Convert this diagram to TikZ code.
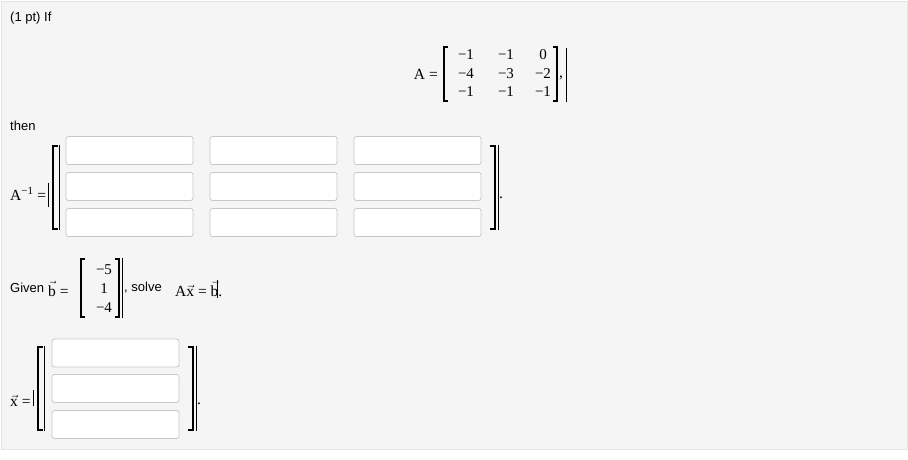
\documentclass[tikz,border=0pt]{standalone}
\usepackage{fontspec}
\setmainfont{Liberation Sans}
\newfontfamily\ser{Liberation Serif}
\newcommand{\vecl}[1]{\ensuremath{\vec{\hbox{#1}}}}
\begin{document}
\begin{tikzpicture}[x=1pt,y=-1pt,
  txt/.style={inner sep=0pt,anchor=west,font=\fontsize{13}{15}\selectfont},
  mth/.style={inner sep=0pt,font=\ser\fontsize{15.5}{17}\selectfont},
  ent/.style={inner sep=0pt,font=\ser\fontsize{15}{17}\selectfont},
  inbox/.style={draw=black!22,fill=white,rounded corners=2.5pt,line width=0.8pt,minimum width=127pt,minimum height=28pt,inner sep=0pt},
  brk/.style={line width=1.2pt},
  thinl/.style={line width=0.6pt}]
\useasboundingbox (0,0) rectangle (908,460);
\fill[white] (0,0) rectangle (908,460);
\draw[fill=black!4,draw=black!10] (1,1) rectangle (907,449);
\node[txt] (t1) at (10,18) {(1 pt) If};
% matrix A
\node[mth,anchor=east] (Aeq) at (438,74) {A =};
\draw[brk] (448,47) -- (444,47) -- (444,101) -- (448,101);
\draw[brk] (553,47) -- (557,47) -- (557,101) -- (553,101);
\draw[thinl] (566,48) -- (566,102);
\node[mth] at (561,78) {,};
\node[ent] (a11) at (466,55) {−1}; \node[ent] (a12) at (506,55) {−1}; \node[ent] (a13) at (543,55) {0};
\node[ent] (a21) at (466,74) {−4}; \node[ent] (a22) at (506,74) {−3}; \node[ent] (a23) at (543,74) {−2};
\node[ent] (a31) at (466,92) {−1}; \node[ent] (a32) at (506,92) {−1}; \node[ent] (a33) at (543,92) {−1};
\node[txt] (then) at (10,126) {then};
% A inverse
\node[mth,anchor=west] (Ainv) at (10,194) {A\textsuperscript{−1} =};
\draw[thinl] (48,183) -- (48,207);
\draw[line width=1.6pt] (58,146) -- (53,146) -- (53,229) -- (58,229);
\draw[thinl] (59,145) -- (59,230);
\draw[line width=1.6pt] (490,146) -- (495,146) -- (495,229) -- (490,229);
\draw[thinl] (498,145) -- (498,230);
\node[mth] at (501,198) {.};
\foreach \c/\x in {1/129.5,2/273.5,3/417.5}
  \foreach \r/\y in {1/150.5,2/186.5,3/222.5}
    \node[inbox] (m\r\c) at (\x,\y) {};
% b vector
\node[txt] (given) at (10,288) {Given};
\node[mth,anchor=west] (beq) at (48,289) {\vecl{b} =};
\draw[brk] (85,259) -- (81,259) -- (81,317) -- (85,317);
\draw[brk] (115,259) -- (119,259) -- (119,317) -- (115,317);
\draw[thinl] (122,258) -- (122,318);
\node[ent] (b1) at (104,270) {−5};
\node[ent] (b2) at (104,289) {1};
\node[ent] (b3) at (104,308) {−4};
\node[txt] (solve) at (124,288) {, solve};
\node[mth,anchor=west] (axb) at (175,289) {A\vecl{x} = \vecl{b}.};
\draw[thinl] (217,280) -- (217,298);
% x vector
\node[mth,anchor=west] (xeq) at (10,401) {\vecl{x} =};
\draw[thinl] (33,390) -- (33,406);
\draw[line width=1.6pt] (43,347) -- (38,347) -- (38,430) -- (43,430);
\draw[thinl] (44,346) -- (44,431);
\draw[line width=1.6pt] (188,347) -- (193,347) -- (193,430) -- (188,430);
\draw[thinl] (196,346) -- (196,431);
\node[mth] at (199,404) {.};
\foreach \r/\y in {1/353,2/388.5,3/424.5}
  \node[inbox] (x\r) at (115.5,\y) {};
\end{tikzpicture}
\end{document}
